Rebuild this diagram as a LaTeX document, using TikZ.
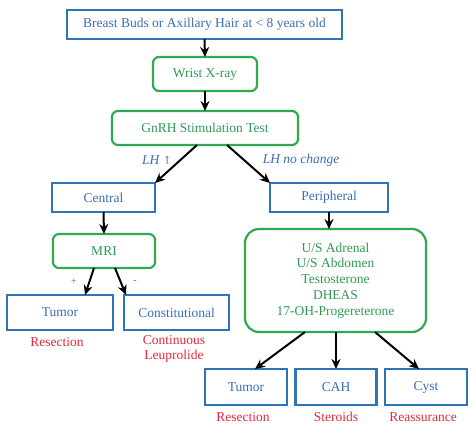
\documentclass[tikz,border=0pt]{standalone}
\usepackage{fontspec}
\setmainfont{Liberation Serif}
\usetikzlibrary{arrows.meta,calc}
\definecolor{bblue}{HTML}{2F75B5}
\definecolor{tblue}{HTML}{3A6DB3}
\definecolor{bgreen}{HTML}{2EAA50}
\definecolor{tgreen}{HTML}{2E9A55}
\definecolor{tred}{HTML}{E4283C}
\begin{document}
\begin{tikzpicture}[x=1bp,y=-1bp,
  every node/.style={font=\fontsize{13.5bp}{15.8bp}\selectfont, inner sep=0pt, outer sep=0pt},
  bluebox/.style={draw=bblue, line width=2.2bp, text=tblue, minimum width=#1},
  greenbox/.style={draw=bgreen, line width=2.2bp, text=tgreen, rounded corners=6bp, minimum width=#1},
  redlbl/.style={text=tred, align=center},
  edgelbl/.style={text=tblue, font=\fontsize{13.5bp}{15.8bp}\selectfont\itshape},
  arr/.style={-{Stealth[length=10bp,width=9bp]}, line width=2bp, black}]
\useasboundingbox (0,0) rectangle (474,433);
\node[bluebox=275bp, minimum height=29bp] (top) at (204.5,24.5) {Breast Buds or Axillary Hair at < 8 years old};
\node[greenbox=104bp, minimum height=34bp] (wrist) at (205,74) {Wrist X-ray};
\node[greenbox=186bp, minimum height=34bp] (gnrh) at (205,128) {GnRH Stimulation Test};
\node[bluebox=103bp, minimum height=29bp] (central) at (103.5,197.5) {Central};
\node[bluebox=118bp, minimum height=29bp] (peri) at (329,197.5) {Peripheral};
\node[greenbox=102bp, minimum height=34bp] (mri) at (104,251) {MRI};
\node[greenbox=181bp, minimum height=103bp, rounded corners=14bp, align=center] (big) at (335.5,280.5)
  {U/S Adrenal\\U/S Abdomen\\Testosterone\\DHEAS\\17-OH-Progereterone};
\node[bluebox=106bp, minimum height=35bp] (tumorl) at (60,312.5) {Tumor};
\node[bluebox=105bp, minimum height=35bp] (const) at (176.5,312.5) {Constitutional};
\node[bluebox=82bp, minimum height=36bp] (tumorr) at (246,387) {Tumor};
\node[bluebox=81bp, minimum height=36bp] (cah) at (336,387) {CAH};
\node[bluebox=82bp, minimum height=36bp] (cyst) at (426,387) {Cyst};

\draw[arr] (top.south) -- (wrist.north);
\draw[arr] (wrist.south) -- (gnrh.north);
\draw[arr] ($(gnrh.south)+(-8,0)$) -- (central.north east);
\draw[arr] ($(gnrh.south)+(22,0)$) -- (peri.north west);
\draw[arr] (central.south) -- (mri.north);
\draw[arr] (peri.south) -- (peri.south |- big.north);
\draw[arr] ($(mri.south)+(-10,0)$) -- ($(tumorl.north east)+(-28,0)$);
\draw[arr] ($(mri.south)+(11,0)$) -- ($(const.north west)+(2,0)$);
\draw[arr] ($(big.south)+(-30.5,0)$) -- ($(tumorr.north)+(9,0)$);
\draw[arr] (cah.north |- big.south) -- (cah.north);
\draw[arr] ($(big.south)+(39.5,0)$) -- ($(cyst.north)+(-7,0)$);

\node[edgelbl] (lhup) at (157,160) {LH \fontspec{DejaVu Serif}\fontsize{11bp}{13bp}\selectfont\upshape ↑};
\node[edgelbl] (lhno) at (301,160) {LH no change};
\node[text=tblue, font=\fontsize{10bp}{12bp}\selectfont] (plus) at (74,282) {+};
\node[text=tblue, font=\fontsize{10bp}{12bp}\selectfont] (minus) at (135,282) {-};
\node[redlbl] (res1) at (57,342) {Resection};
\node[redlbl] (leu) at (174,349) {Continuous\\Leuprolide};
\node[redlbl] (res2) at (243,417) {Resection};
\node[redlbl] (ster) at (336,417) {Steroids};
\node[redlbl] (reas) at (423,417) {Reassurance};
\end{tikzpicture}
\end{document}
